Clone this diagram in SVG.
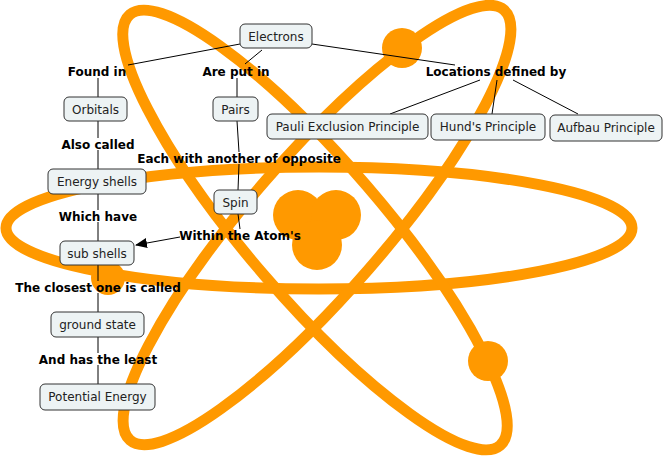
<svg xmlns="http://www.w3.org/2000/svg" width="664" height="461" viewBox="0 0 664 461">
<style>
.orb{fill:none;stroke:#f90;stroke-width:11}
.ball{fill:#f90}
.n rect{fill:#edf3f4;stroke:#333;stroke-width:1}
.n text{font-family:"DejaVu Sans",sans-serif;font-size:12px;fill:#222;text-anchor:middle}
.l text{font-family:"DejaVu Sans",sans-serif;font-size:12px;font-weight:bold;fill:#000;text-anchor:middle}
.c line{stroke:#000;stroke-width:1}
</style>
<defs><marker id="ar" markerWidth="12" markerHeight="10" refX="11" refY="5" orient="auto" markerUnits="userSpaceOnUse"><path d="M0,0 L12,5 L0,10 Z" fill="#000"/></marker></defs>
<g id="atom">
<ellipse class="orb" cx="319" cy="228" rx="313" ry="61"/>
<ellipse class="orb" cx="315" cy="230" rx="284" ry="68" transform="rotate(49.3 315 230)"/>
<ellipse class="orb" cx="317" cy="225" rx="285" ry="68" transform="rotate(-49 317 225)"/>
<circle class="ball" cx="298" cy="215" r="25"/>
<circle class="ball" cx="336" cy="215" r="25"/>
<circle class="ball" cx="317" cy="245" r="25"/>
<circle class="ball" cx="402" cy="48" r="20"/>
<circle class="ball" cx="488" cy="361" r="20"/>
<circle class="ball" cx="108" cy="278" r="17"/>
</g>
<g id="connectors" class="c">
<line x1="240" y1="44" x2="128" y2="65"/>
<line x1="262" y1="50" x2="245" y2="64"/>
<line x1="312" y1="44" x2="455" y2="65"/>
<line x1="98" y1="78" x2="98" y2="97"/>
<line x1="237" y1="78" x2="237" y2="97"/>
<line x1="480" y1="80" x2="390" y2="114"/>
<line x1="497" y1="80" x2="492" y2="114"/>
<line x1="513" y1="80" x2="578" y2="114"/>
<line x1="98" y1="121" x2="98" y2="138"/>
<line x1="98" y1="150" x2="98" y2="169"/>
<line x1="98" y1="194" x2="98" y2="210"/>
<line x1="98" y1="222" x2="98" y2="241"/>
<line x1="237" y1="121" x2="239" y2="152"/>
<line x1="239" y1="164" x2="238" y2="190"/>
<line x1="238" y1="214" x2="240" y2="229"/>
<line x1="180" y1="237" x2="136" y2="245" marker-end="url(#ar)"/>
<line x1="98" y1="265" x2="98" y2="281"/>
<line x1="98" y1="293" x2="98" y2="312"/>
<line x1="98" y1="337" x2="98" y2="353"/>
<line x1="98" y1="365" x2="98" y2="384"/>
</g>
<g id="n-electrons" class="n"><rect x="240" y="24" width="72" height="24" rx="5"/><text x="276" y="41">Electrons</text></g>
<g id="n-orbitals" class="n"><rect x="64" y="97" width="63" height="24" rx="5"/><text x="95.5" y="114">Orbitals</text></g>
<g id="n-pairs" class="n"><rect x="213" y="97" width="45" height="24" rx="5"/><text x="235.5" y="114">Pairs</text></g>
<g id="n-pauli" class="n"><rect x="267" y="114" width="161" height="25" rx="5"/><text x="347.5" y="131">Pauli Exclusion Principle</text></g>
<g id="n-hund" class="n"><rect x="431" y="114" width="114" height="26" rx="5"/><text x="488" y="131">Hund's Principle</text></g>
<g id="n-aufbau" class="n"><rect x="550" y="115" width="112" height="26" rx="5"/><text x="606" y="132">Aufbau Principle</text></g>
<g id="n-energy" class="n"><rect x="48" y="169" width="98" height="25" rx="5"/><text x="97" y="186">Energy shells</text></g>
<g id="n-spin" class="n"><rect x="214" y="190" width="43" height="24" rx="5"/><text x="235.5" y="207">Spin</text></g>
<g id="n-sub" class="n"><rect x="60" y="241" width="74" height="24" rx="5"/><text x="97" y="258">sub shells</text></g>
<g id="n-ground" class="n"><rect x="51" y="312" width="93" height="25" rx="5"/><text x="97.5" y="329">ground state</text></g>
<g id="n-potential" class="n"><rect x="40" y="384" width="115" height="26" rx="5"/><text x="97.5" y="401">Potential Energy</text></g>
<g id="labels" class="l">
<text x="97" y="76">Found in</text>
<text x="236" y="76">Are put in</text>
<text x="496" y="76">Locations defined by</text>
<text x="98" y="149">Also called</text>
<text x="239" y="163">Each with another of opposite</text>
<text x="98" y="221">Which have</text>
<text x="240" y="240">Within the Atom's</text>
<text x="98" y="292">The closest one is called</text>
<text x="98" y="364">And has the least</text>
</g>
</svg>
